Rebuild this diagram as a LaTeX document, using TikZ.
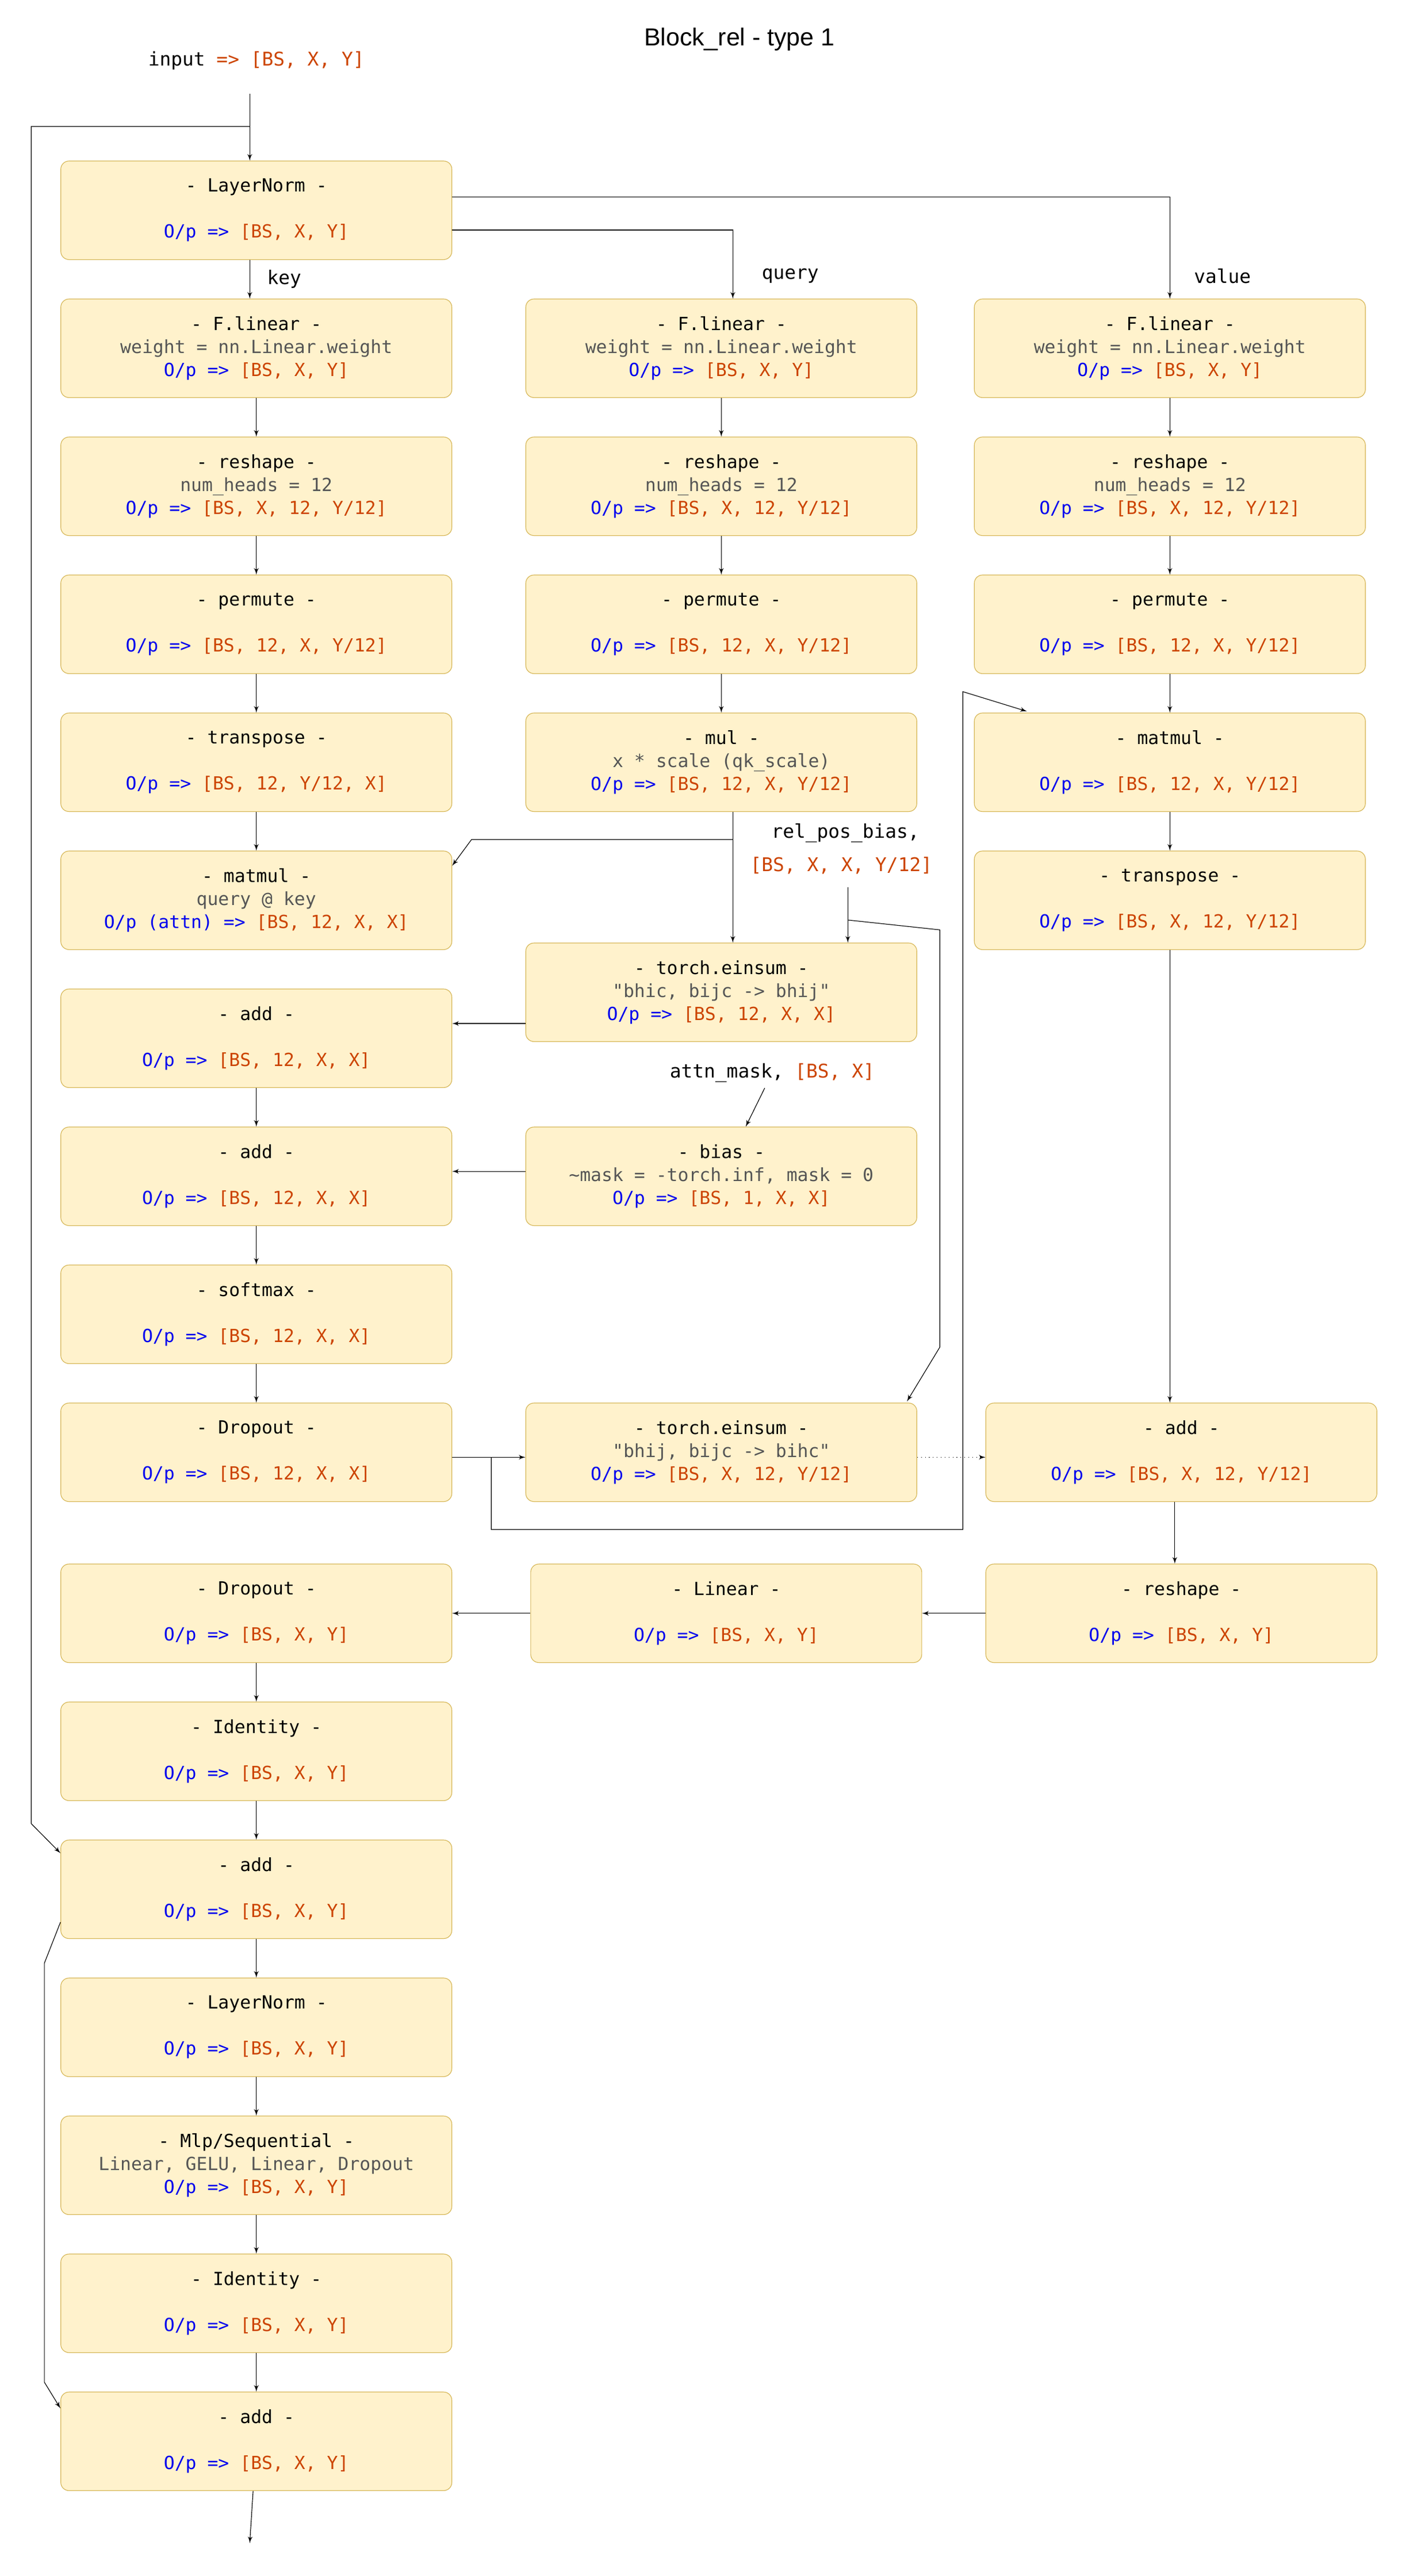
\documentclass[tikz,border=0pt]{standalone}
\usepackage{fontspec}
\setmainfont{Liberation Sans}
\setmonofont{DejaVu Sans Mono}
\usepackage{tikz}
\usetikzlibrary{shapes,arrows}
\definecolor{boxfill}{HTML}{FFF2CC}
\definecolor{boxdraw}{HTML}{D6B656}
\definecolor{opblue}{HTML}{0000EE}
\definecolor{dimorange}{HTML}{CC4400}
\definecolor{argrey}{HTML}{555555}
\newcommand{\dims}[1]{{\color{dimorange}#1}}
\newcommand{\opline}[1]{{\color{opblue}O/p =>} \dims{#1}}
\newcommand{\argtxt}[1]{{\color{argrey}#1}}
\tikzstyle{block} = [rectangle, draw=boxdraw, fill=boxfill, minimum width=238pt,
    minimum height=60pt, align=center, rounded corners=5pt,
    font=\ttfamily\fontsize{11}{14}\selectfont]
\tikzstyle{lbl} = [font=\ttfamily\fontsize{11.5}{14}\selectfont]
\tikzstyle{line} = [draw, -latex']

\begin{document}
\begin{tikzpicture}[x=1pt, y=-1pt]
\useasboundingbox (0,0) rectangle (853,1568);
\node [font=\fontsize{15}{18}\selectfont] (title) at (450,24) {Block\_rel - type 1};
\node [lbl] (input) at (156,37) {input \dims{=> [BS, X, Y]}};
% key column
\node [block] (ln1) at (156,128) {- LayerNorm -\\ \strut\\ \opline{[BS, X, Y]}};
\node [block] (klin) at (156,212) {- F.linear -\\ \argtxt{weight = nn.Linear.weight}\\ \opline{[BS, X, Y]}};
\node [block] (kresh) at (156,296) {- reshape -\\ \argtxt{num\_heads = 12}\\ \opline{[BS, X, 12, Y/12]}};
\node [block] (kperm) at (156,380) {- permute -\\ \strut\\ \opline{[BS, 12, X, Y/12]}};
\node [block] (ktrans) at (156,464) {- transpose -\\ \strut\\ \opline{[BS, 12, Y/12, X]}};
\node [block] (attn) at (156,548) {- matmul -\\ \argtxt{query @ key}\\ {\color{opblue}O/p (attn) =>} \dims{[BS, 12, X, X]}};
\node [block] (add1) at (156,632) {- add -\\ \strut\\ \opline{[BS, 12, X, X]}};
\node [block] (add2) at (156,716) {- add -\\ \strut\\ \opline{[BS, 12, X, X]}};
\node [block] (soft) at (156,800) {- softmax -\\ \strut\\ \opline{[BS, 12, X, X]}};
\node [block] (drop1) at (156,884) {- Dropout -\\ \strut\\ \opline{[BS, 12, X, X]}};
\node [block] (drop2) at (156,982) {- Dropout -\\ \strut\\ \opline{[BS, X, Y]}};
\node [block] (ident1) at (156,1066) {- Identity -\\ \strut\\ \opline{[BS, X, Y]}};
\node [block] (res1) at (156,1150) {- add -\\ \strut\\ \opline{[BS, X, Y]}};
\node [block] (ln2) at (156,1234) {- LayerNorm -\\ \strut\\ \opline{[BS, X, Y]}};
\node [block] (mlp) at (156,1318) {- Mlp/Sequential -\\ \argtxt{Linear, GELU, Linear, Dropout}\\ \opline{[BS, X, Y]}};
\node [block] (ident2) at (156,1402) {- Identity -\\ \strut\\ \opline{[BS, X, Y]}};
\node [block] (res2) at (156,1486) {- add -\\ \strut\\ \opline{[BS, X, Y]}};
\coordinate (out) at (152,1548);
% query column
\node [block] (qlin) at (439,212) {- F.linear -\\ \argtxt{weight = nn.Linear.weight}\\ \opline{[BS, X, Y]}};
\node [block] (qresh) at (439,296) {- reshape -\\ \argtxt{num\_heads = 12}\\ \opline{[BS, X, 12, Y/12]}};
\node [block] (qperm) at (439,380) {- permute -\\ \strut\\ \opline{[BS, 12, X, Y/12]}};
\node [block] (qmul) at (439,464) {- mul -\\ \argtxt{x * scale (qk\_scale)}\\ \opline{[BS, 12, X, Y/12]}};
\node [block] (ein1) at (439,604) {- torch.einsum -\\ \argtxt{"bhic, bijc -> bhij"}\\ \opline{[BS, 12, X, X]}};
\node [block] (bias) at (439,716) {- bias -\\ \argtxt{\textasciitilde mask = -torch.inf, mask = 0}\\ \opline{[BS, 1, X, X]}};
\node [block] (ein2) at (439,884) {- torch.einsum -\\ \argtxt{"bhij, bijc -> bihc"}\\ \opline{[BS, X, 12, Y/12]}};
\node [block] (lin) at (442,982) {- Linear -\\ \strut\\ \opline{[BS, X, Y]}};
\node [lbl, anchor=west] (relb) at (466,507) {rel\_pos\_bias,};
\node [lbl] (reld) at (512,527) {\dims{[BS, X, X, Y/12]}};
\node [lbl] (mask) at (470,653) {attn\_mask, \dims{[BS, X]}};
% value column
\node [block] (vlin) at (712,212) {- F.linear -\\ \argtxt{weight = nn.Linear.weight}\\ \opline{[BS, X, Y]}};
\node [block] (vresh) at (712,296) {- reshape -\\ \argtxt{num\_heads = 12}\\ \opline{[BS, X, 12, Y/12]}};
\node [block] (vperm) at (712,380) {- permute -\\ \strut\\ \opline{[BS, 12, X, Y/12]}};
\node [block] (vmat) at (712,464) {- matmul -\\ \strut\\ \opline{[BS, 12, X, Y/12]}};
\node [block] (vtrans) at (712,548) {- transpose -\\ \strut\\ \opline{[BS, X, 12, Y/12]}};
\node [block] (vadd) at (719,884) {- add -\\ \strut\\ \opline{[BS, X, 12, Y/12]}};
\node [block] (vresh2) at (719,982) {- reshape -\\ \strut\\ \opline{[BS, X, Y]}};
\node [lbl] (keyl) at (173,170) {key};
\node [lbl] (queryl) at (481,168) {query};
\node [lbl] (valuel) at (744,168) {value};
% connectors
\path [line] (152,57) -- (ln1.north -| 152,0);
\path [line] (152,77) -- (19,77) -- (19,1110) -- (res1.west |- 0,1128);
\path [line] (res1.west |- 0,1170) -- (27,1195) -- (27,1450) -- (res2.west |- 0,1466);
\path [line] (ln1.south -| 152,0) -- (klin.north -| 152,0);
\path [line] (ln1.east |- 0,140) -- (446,140) -- (qlin.north -| 446,0);
\path [line] (ln1.east |- 0,120) -- (712,120) -- (vlin.north);
\foreach \a/\b in {klin/kresh,kresh/kperm,kperm/ktrans,ktrans/attn,add1/add2,add2/soft,
    soft/drop1,drop2/ident1,ident1/res1,res1/ln2,ln2/mlp,mlp/ident2,ident2/res2,
    qlin/qresh,qresh/qperm,qperm/qmul,vlin/vresh,vresh/vperm,vperm/vmat,vmat/vtrans}
  \path [line] (\a) -- (\b);
\path [line] (res2) -- (out);
\path [line] (qmul.south -| 446,0) -- (ein1.north -| 446,0);
\path [line] (446,511) -- (287,511) -- (attn.east |- 0,527);
\path [line] (516,540) -- (ein1.north -| 516,0);
\path [line] (516,560) -- (572,566) -- (572,820) -- (552,853);
\path [line] (ein1.west |- 0,623) -- (add1.east |- 0,623);
\path [line] (mask) -- (bias);
\path [line] (bias.west |- 0,713) -- (add2.east |- 0,713);
\path [line] (drop1.east |- 0,887) -- (ein2.west |- 0,887);
\path [line] (299,887) -- (299,931) -- (586,931) -- (586,421) -- (625,433);
\path [line, dotted] (ein2.east |- 0,887) -- (vadd.west |- 0,887);
\path [line] (vtrans.south) -- (vadd.north -| vtrans.south);
\path [line] (vadd.south -| 715,0) -- (vresh2.north -| 715,0);
\path [line] (vresh2) -- (lin);
\path [line] (lin) -- (drop2);
\end{tikzpicture}
\end{document}
